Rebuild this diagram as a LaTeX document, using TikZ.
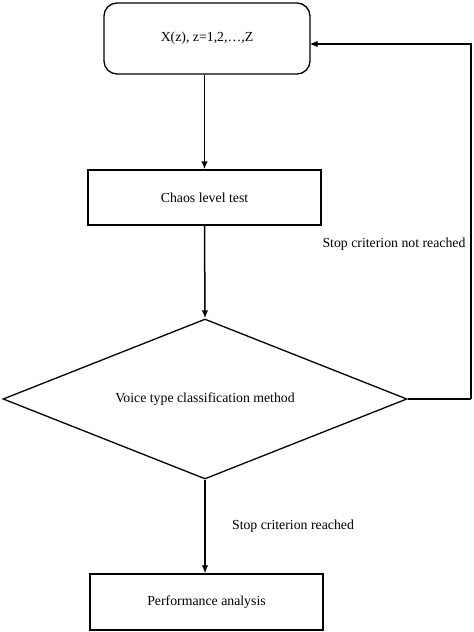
\documentclass[tikz,border=0pt]{standalone}
\usepackage{fontspec}
\setmainfont{Liberation Serif}
\usetikzlibrary{shapes.geometric,arrows.meta}
\begin{document}
\begin{tikzpicture}[x=1pt,y=-1pt,
  every node/.style={font=\fontsize{13.8}{16}\selectfont},
  boxstyle/.style={draw, line width=1.3pt, inner sep=0pt},
  arr/.style={line width=1.5pt, -{Latex[length=8pt,width=6.5pt]}},
  lbl/.style={inner sep=0pt}]
\useasboundingbox (0,0) rectangle (474,632);
\node[boxstyle, rounded corners=13pt, minimum width=206pt, minimum height=71pt] (top) at (207,38.5) {X(z), z=1,2,\dots,Z};
\node[boxstyle, minimum width=233pt, minimum height=55pt] (chaos) at (204.5,197.5) {Chaos level test};
\node[boxstyle, diamond, aspect=2.5, minimum width=404pt, minimum height=160pt] (dia) at (205,399) {Voice type classification method};
\node[boxstyle, minimum width=233pt, minimum height=56pt] (perf) at (206.5,602) {Performance analysis};
\coordinate (fb) at (471,399);
\coordinate (topin) at (309.5,44);
\draw[arr] (top.south -| chaos.north) -- (chaos.north);
\draw[arr] (chaos.south) -- (dia.north);
\draw[arr] (dia.south) -- (dia.south |- perf.north);
\draw[boxstyle] (dia.east) -- (fb);
\draw[arr] (fb) |- (topin);
\node[lbl] (l1) at (394,244) {Stop criterion not reached};
\node[lbl] (l2) at (293,526) {Stop criterion reached};
\end{tikzpicture}
\end{document}
